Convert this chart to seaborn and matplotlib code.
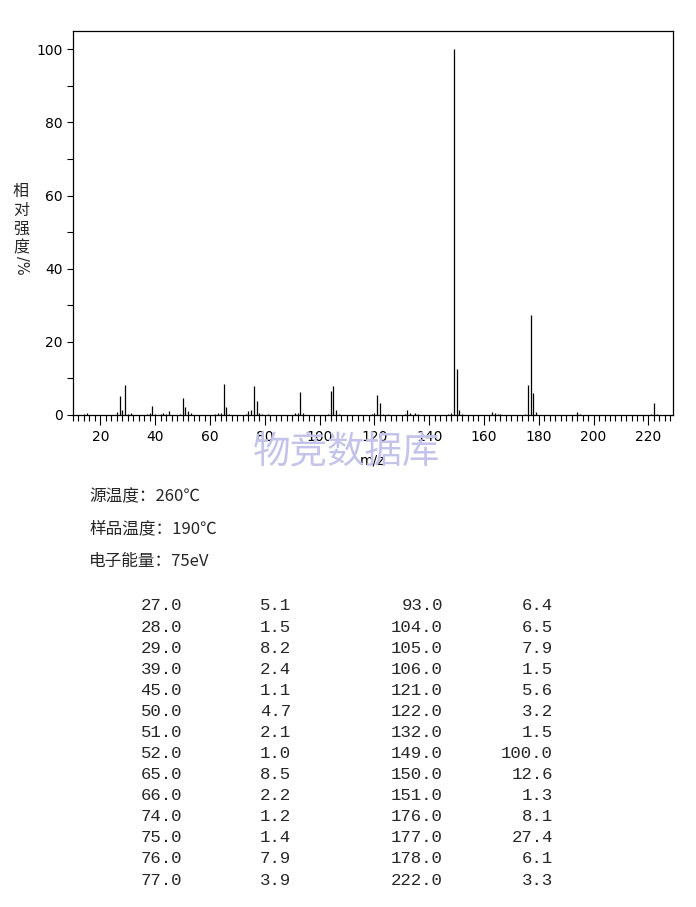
import numpy as np
import pandas as pd
import seaborn as sns
import matplotlib
matplotlib.use("Agg")
import matplotlib.pyplot as plt
from matplotlib.ticker import MultipleLocator

# peaks listed in the table under the chart
mz_main = [27, 28, 29, 39, 45, 50, 51, 52, 65, 66, 74, 75, 76, 77,
           93, 104, 105, 106, 121, 122, 132, 149, 150, 151, 176, 177, 178, 222]
int_main = [5.1, 1.5, 8.2, 2.4, 1.1, 4.7, 2.1, 1.0, 8.5, 2.2, 1.2, 1.4, 7.9, 3.9,
            6.4, 6.5, 7.9, 1.5, 5.6, 3.2, 1.5, 100.0, 12.6, 1.3, 8.1, 27.4, 6.1, 3.3]

# small peaks (not in the table)
mz_small = [14, 15, 26, 30, 31, 37, 38, 40, 42, 43, 44, 49, 53, 62, 63, 64, 67,
            73, 78, 79, 81, 91, 92, 94, 103, 107, 119, 120, 123, 125, 131, 133,
            135, 136, 147, 148, 152, 163, 164, 165, 166, 175, 179, 194, 195, 221, 223]
int_small = [0.3, 0.6, 0.8, 0.3, 0.6, 0.3, 0.6, 0.3, 0.3, 0.6, 0.3, 0.3, 0.6, 0.3, 0.6, 0.6, 0.3,
             0.4, 0.6, 0.4, 0.3, 0.5, 0.5, 0.5, 0.3, 0.3, 0.3, 0.6, 0.4, 0.4, 0.3, 0.6,
             0.5, 0.3, 0.3, 0.6, 0.3, 0.8, 0.6, 0.3, 0.3, 0.3, 0.8, 0.8, 0.4, 0.3, 0.4]

info_lines = ["源温度：260℃", "样品温度：190℃", "电子能量：75eV"]
ylabel_chars = ["相", "对", "强", "度"]
watermark = "物竞数据库"

spec = pd.DataFrame({"mz": mz_main + mz_small, "rel": int_main + int_small})

sns.set_style("ticks")
plt.rcParams['font.family'] = ['Noto Sans CJK SC', 'DejaVu Sans']

W, H = 696, 907
fig = plt.figure(figsize=(W / 100, H / 100), dpi=100)
ax = fig.add_axes([73 / W, 1 - 415 / H, 600 / W, 384 / H])

ax.vlines(spec["mz"], 0, spec["rel"], color="black", linewidth=0.9)
ax.set_xlim(10, 229)
ax.set_ylim(0, 105)

ax.xaxis.set_major_locator(MultipleLocator(20))
ax.xaxis.set_minor_locator(MultipleLocator(2))
ax.yaxis.set_major_locator(MultipleLocator(20))
ax.yaxis.set_minor_locator(MultipleLocator(10))
ax.tick_params(axis="x", which="major", direction="out", length=7.5, width=0.8, pad=3,
               labelsize=10, color="black", labelcolor="black")
ax.tick_params(axis="x", which="minor", direction="out", length=4, width=0.8, color="black")
ax.tick_params(axis="y", which="both", direction="out", length=4.5, width=0.8, pad=3,
               labelsize=10, color="black", labelcolor="black")
for lab in ax.get_xticklabels() + ax.get_yticklabels():
    lab.set_fontfamily("DejaVu Sans")
for sp in ax.spines.values():
    sp.set_visible(True)
    sp.set_linewidth(0.9)
    sp.set_color("black")

ax.set_xlabel("m/z", fontsize=10, family="DejaVu Sans", labelpad=7, color="black")

# vertical y label: upright characters, then "/%" turned
ys = [191, 210, 229, 248]
for ch, yy in zip(ylabel_chars, ys):
    fig.text(21 / W, 1 - yy / H, ch, fontsize=11.5, ha="center", va="center")
fig.text(21 / W, 1 - 265 / H, "/%", fontsize=10.5, ha="center", va="center",
         rotation=-90, family="DejaVu Sans")

# watermark
fig.text(347 / W, 1 - 453 / H, watermark, fontsize=27, color="#c4c4ea",
         ha="center", va="center", zorder=10)

# instrument info
for i, line in enumerate(info_lines):
    fig.text(89 / W, 1 - (497 + 32 * i) / H, line, fontsize=12, ha="left", va="center")

# peak table
n = len(mz_main) // 2
for i in range(n):
    y = 1 - (606 + 21.08 * i) / H
    fig.text(182 / W, y, "%.1f" % mz_main[i], fontsize=12.5, family="Liberation Mono", ha="right", va="center")
    fig.text(291 / W, y, "%.1f" % int_main[i], fontsize=12.5, family="Liberation Mono", ha="right", va="center")
    fig.text(443 / W, y, "%.1f" % mz_main[n + i], fontsize=12.5, family="Liberation Mono", ha="right", va="center")
    fig.text(553 / W, y, "%.1f" % int_main[n + i], fontsize=12.5, family="Liberation Mono", ha="right", va="center")

fig.savefig("out.png", dpi=100)
